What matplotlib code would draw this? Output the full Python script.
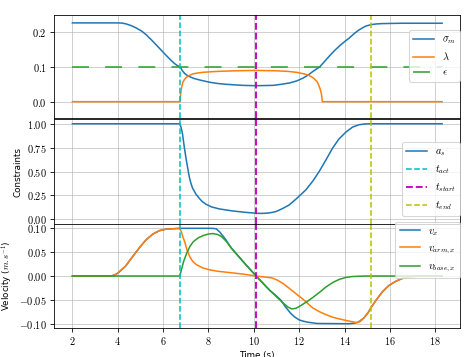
import matplotlib
matplotlib.use("Agg")
import matplotlib.pyplot as plt

plt.rcParams['mathtext.fontset'] = 'cm'
plt.rcParams['font.family'] = ['DejaVu Sans']

# ---------------- data ----------------
t_act, t_start, t_end = 6.74, 10.1, 15.17

# top panel
sig_t = [2.0, 4.0, 4.2, 4.37, 4.6, 4.81, 5.05, 5.25, 5.47, 5.69, 5.92, 6.14, 6.32, 6.5, 6.63, 6.75, 6.84,
         6.94, 7.05, 7.17, 7.38, 7.61, 8.05, 8.4, 8.79, 9.52, 10.1, 10.84, 11.2, 11.58, 11.9, 12.17,
         12.4, 12.61, 12.9, 13.12, 13.35, 13.57, 13.79, 14.0, 14.2, 14.42, 14.64, 14.8, 14.94, 15.17,
         15.4, 15.67, 16.5, 18.3]
sig_v = [0.227, 0.227, 0.2265, 0.224, 0.219, 0.2125, 0.2035, 0.193, 0.179, 0.164, 0.148, 0.133, 0.121,
         0.11, 0.104, 0.1, 0.09, 0.082, 0.076, 0.072, 0.0665, 0.0625, 0.056, 0.0525, 0.05, 0.047, 0.046,
         0.047, 0.05, 0.054, 0.06, 0.068, 0.077, 0.0875, 0.1, 0.116, 0.133, 0.148, 0.1615, 0.173, 0.183,
         0.196, 0.207, 0.213, 0.218, 0.222, 0.224, 0.225, 0.226, 0.226]
lam_t = [2.0, 6.75, 6.77, 6.8, 6.87, 6.94, 7.02, 7.15, 7.31, 7.5, 7.75, 8.1, 8.49, 9.0, 9.52, 10.1,
         10.99, 11.5, 11.88, 12.15, 12.39, 12.55, 12.68, 12.79, 12.87, 12.93, 12.98, 13.02, 18.3]
lam_v = [0.0, 0.0, 0.02, 0.0365, 0.056, 0.064, 0.07, 0.0755, 0.08, 0.0825, 0.0846, 0.0862, 0.0875, 0.0886,
         0.0894, 0.09, 0.089, 0.0873, 0.0846, 0.081, 0.077, 0.0715, 0.065, 0.057, 0.046, 0.035, 0.022,
         0.0, 0.0]
eps_t = [2.0, 18.3]
eps_v = [0.1, 0.1]

# middle panel
as_t = [2.0, 6.74, 6.78, 6.82, 6.86, 6.93, 7.01, 7.08, 7.15, 7.22, 7.3, 7.45, 7.59, 7.72, 7.89, 8.15,
        8.48, 9.06, 9.6, 10.09, 10.3, 10.53, 10.75, 10.97, 11.25, 11.56, 11.9, 12.29, 12.6, 12.88, 13.2,
        13.47, 13.75, 14.06, 14.35, 14.64, 14.9, 15.17, 18.3]
as_v = [1.0, 1.0, 0.97, 0.935, 0.884, 0.76, 0.637, 0.54, 0.447, 0.38, 0.325, 0.262, 0.22, 0.186, 0.157,
        0.128, 0.108, 0.087, 0.073, 0.063, 0.061, 0.063, 0.069, 0.08, 0.11, 0.15, 0.22, 0.307, 0.40, 0.5,
        0.63, 0.745, 0.84, 0.913, 0.965, 0.99, 0.998, 1.0, 1.0]

# bottom panel
vx_t = [2.0, 3.7, 3.85, 4.0, 4.33, 4.66, 5.0, 5.25, 5.55, 5.83, 6.1, 6.42, 6.74, 8.0, 8.2, 8.34, 8.5,
        8.75, 9.0, 9.53, 10.1, 10.7, 10.95, 11.18, 11.4, 11.62, 11.8, 12.0, 12.2, 12.4, 12.8, 14.2, 14.4,
        14.6, 14.85, 15.05, 15.17, 15.4, 15.67, 15.95, 16.26, 16.55, 16.84, 17.28, 18.3]
vx_v = [0.0, 0.0, 0.002, 0.006, 0.02, 0.041, 0.062, 0.076, 0.088, 0.095, 0.098, 0.099, 0.1, 0.1, 0.0998,
        0.099, 0.092, 0.077, 0.059, 0.03, 0.0, -0.03, -0.04, -0.05, -0.065, -0.078, -0.086, -0.092,
        -0.095, -0.097, -0.0995, -0.1, -0.099, -0.097, -0.088, -0.076, -0.066, -0.05, -0.033, -0.02,
        -0.011, -0.005, -0.002, 0.0, 0.0]
varm_t = [2.0, 3.7, 3.85, 4.0, 4.33, 4.66, 5.0, 5.25, 5.55, 5.83, 6.1, 6.42, 6.74, 6.8, 6.87, 6.95, 7.05,
          7.18, 7.3, 7.46, 7.75, 8.05, 8.4, 8.78, 9.53, 10.1, 10.8, 11.05, 11.3, 11.75, 12.2, 12.6, 12.9,
          13.18, 13.45, 13.77, 14.05, 14.36, 14.5, 14.6, 14.72, 14.85, 15.05, 15.17, 15.4, 15.67, 15.95,
          16.26, 16.55, 16.84, 17.28, 18.3]
varm_v = [0.0, 0.0, 0.002, 0.006, 0.02, 0.041, 0.062, 0.076, 0.088, 0.095, 0.098, 0.099, 0.1, 0.093,
          0.082, 0.072, 0.055, 0.04, 0.031, 0.024, 0.017, 0.013, 0.01, 0.008, 0.004, 0.0, -0.004, -0.009,
          -0.016, -0.033, -0.05, -0.067, -0.075, -0.081, -0.086, -0.09, -0.093, -0.096, -0.0975, -0.097,
          -0.094, -0.088, -0.076, -0.066, -0.05, -0.033, -0.02, -0.011, -0.005, -0.002, 0.0, 0.0]
vbase_t = [2.0, 6.74, 6.8, 6.9, 7.04, 7.18, 7.33, 7.55, 7.77, 8.0, 8.2, 8.4, 8.57, 8.8, 9.0, 9.53, 10.1,
           10.7, 11.3, 11.5, 11.67, 11.83, 12.0, 12.3, 12.6, 12.9, 13.18, 13.5, 13.77, 14.05, 14.36,
           14.9, 18.3]
vbase_v = [0.0, 0.0, 0.012, 0.03, 0.048, 0.062, 0.072, 0.08, 0.085, 0.088, 0.089, 0.087, 0.083, 0.072,
           0.059, 0.03, 0.0, -0.03, -0.057, -0.065, -0.069, -0.068, -0.064, -0.055, -0.045, -0.034,
           -0.023, -0.013, -0.007, -0.003, -0.001, 0.0, 0.0]

x_ticks = [2, 4, 6, 8, 10, 12, 14, 16, 18]
top_yticks = [0.0, 0.1, 0.2]
mid_yticks = [0.0, 0.25, 0.5, 0.75, 1.0]
bot_yticks = [-0.10, -0.05, 0.0, 0.05, 0.10]

# ---------------- figure ----------------
DPI = 74
fig = plt.figure(figsize=(474 / DPI, 357 / DPI), dpi=DPI)
L, W = 0.114, 0.8565
ax1 = fig.add_axes([L, 0.6695, W, 0.2893])
ax2 = fig.add_axes([L, 0.3725, W, 0.2942], sharex=ax1)
ax3 = fig.add_axes([L, 0.0812, W, 0.2913], sharex=ax1)

blue, orange, green = '#1f77b4', '#ff7f0e', '#2ca02c'

def vlines(ax, label=False):
    ax.axvline(t_act, color='c', ls='--', lw=1.5, label=r'$t_{act}$' if label else None)
    ax.axvline(t_start, color='m', ls='--', lw=1.8, label=r'$t_{start}$' if label else None)
    ax.axvline(t_end, color='y', ls='--', lw=1.5, label=r'$t_{end}$' if label else None)

ax1.plot(sig_t, sig_v, color=blue, lw=1.5, label=r'$\sigma_m$')
ax1.plot(lam_t, lam_v, color=orange, lw=1.5, label=r'$\lambda$')
ax1.plot(eps_t, eps_v, color=green, lw=1.5, dashes=(11, 10.5), label=r'$\epsilon$')
ax1.legend(loc='upper right', bbox_to_anchor=(1.0, 0.852), borderaxespad=0.0)
vlines(ax1)
ax1.set_ylim(-0.047, 0.2506)

ax2.plot(as_t, as_v, color=blue, lw=1.5, label=r'$a_s$')
vlines(ax2, label=True)
ax2.legend(loc='lower right', bbox_to_anchor=(1.0, 0.076), borderaxespad=0.0)
ax2.set_ylim(-0.05, 1.05)
ax2.set_ylabel('Constraints', fontsize=8.5)

ax3.plot(vx_t, vx_v, color=blue, lw=1.5, label=r'$v_x$')
ax3.plot(varm_t, varm_v, color=orange, lw=1.5, label=r'$v_{arm,x}$')
ax3.plot(vbase_t, vbase_v, color=green, lw=1.5, label=r'$v_{base,x}$')
vlines(ax3)
ax3.legend(loc='upper right', bbox_to_anchor=(1.0, 1.02), borderaxespad=0.0)
ax3.set_ylim(-0.109, 0.109)
ax3.set_ylabel(r'Velocity ($m.s^{-1}$)', fontsize=8.5)
ax3.set_xlabel('Time (s)', fontsize=8.5)

ax1.set_xlim(1.19, 19.09)
ax3.set_xticks(x_ticks)
ax3.set_xticklabels([f'${t}$' for t in x_ticks])
for ax in (ax1, ax2):
    ax.tick_params(labelbottom=False)

ax1.set_yticks(top_yticks)
ax1.set_yticklabels([f'${t:.1f}$' for t in top_yticks])
ax2.set_yticks(mid_yticks)
ax2.set_yticklabels([f'${t:.2f}$' for t in mid_yticks])
ax3.set_yticks(bot_yticks)
ax3.set_yticklabels([f'${t:.2f}$' for t in bot_yticks])

for ax in (ax1, ax2, ax3):
    ax.grid(True, color='#b0b0b0', lw=0.8, alpha=0.7)
    ax.set_axisbelow(True)
    ax.tick_params(labelsize=10)

fig.savefig('out.png', dpi=DPI)
